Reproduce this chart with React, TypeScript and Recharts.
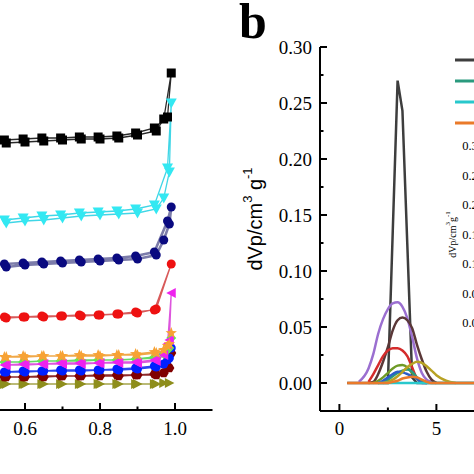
import { LineChart, Line, XAxis, YAxis, Legend } from 'recharts';

// (a) isotherms: adsorption branch out, desorption branch back
const P_ADS = [0.55, 0.6, 0.65, 0.7, 0.75, 0.8, 0.85, 0.9, 0.95, 0.97, 0.985, 0.99];
const P_DES = [0.98, 0.945, 0.895, 0.845, 0.795, 0.745, 0.695, 0.645, 0.595, 0.545];

const BLACK_ADS = [267, 268, 269, 270, 271, 271, 272, 275, 279, 291, null, 337];
const BLACK_DES = [293, 282, 277, 274, 273, 273, 272, 272, 271, 270];
const CYAN_ADS = [187, 189, 190, 192, 194, 195, 196, 197, 201, 212, 238, 307];
const CYAN_DES = [242, 205, 201, 199, 198, 197, 195, 194, 192, 190];
const NAVY_ADS = [143, 145, 146, 147, 148, 149, 150, 151, 155, 170, 186, 203];
const NAVY_DES = [189, 158, 154, 152, 151, 150, 149, 148, 147, 146];
const RED_ADS = [92, 93, 93, 94, 94, 95, 96, 97, 101, null, null, 146];
const RED_DES = [null, 100, 98, 96, 95, 95, 94, 94, 93, 93];
const MAGENTA_ADS = [45, 45, 46, 46, 46, 47, 47, 47, 49, 55, 70, 117];
const MAGENTA_DES = [66, 50, 48, 48, 47, 47, 47, 46, 46, 45];
const ORANGE_ADS = [53, 53, 54, 54, 54, 54, 55, 55, 57, 60, 66, 77];
const ORANGE_DES = [64, 58, 56, 55, 55, 55, 54, 54, 54, 53];
const GREEN_ADS = [48, 48, 49, 49, 49, 50, 50, 51, 52, 56, 62, 72];
const GREEN_DES = [60, 53, 51, 50, 50, 50, 49, 49, 48, 48];
const BLUE_ADS = [38, 38, 39, 39, 39, 40, 40, 41, 43, 46, 52, 62];
const BLUE_DES = [50, 44, 42, 41, 40, 40, 40, 39, 39, 38];
const MAROON_ADS = [33, 33, 33, 34, 34, 34, 34, 35, 35, 37, 42, 57];
const MAROON_DES = [44, 36, 35, 35, 35, 34, 34, 34, 33, 33];
const OLIVE_ADS = [26, 26, 26, 26, 26, 26, 26, 26, 26, 27, 27, null];
const OLIVE_DES = [null, 26, 26, 26, 26, 26, 26, 26, 26, 26];

const ISO_TICKS = [0.6, 0.7, 0.8, 0.9, 1.0];

// (b) pore size distribution
const PORE = [0.4, 1.0, 1.5, 1.75, 2.0, 2.25, 2.5, 2.75, 3.0, 3.25, 3.5, 3.75, 4.0, 4.25, 4.5, 4.75, 5.0, 5.5, 6.0, 7.0, 8.0, 9.0];
const PSD_BLACK = [0, 0, 0, 0, 0, 0, 0, 0.135, 0.27, 0.243, 0.124, 0.005, 0, 0, 0, 0, 0, 0, 0, 0, 0, 0];
const PSD_PURPLE = [null, 0.001, 0.013, 0.026, 0.044, 0.057, 0.066, 0.071, 0.072, 0.068, 0.058, 0.041, 0.022, 0.009, 0.003, 0.001, 0, null, null, null, null, null];
const PSD_BROWN = [null, null, 0, 0.001, 0.008, 0.019, 0.032, 0.047, 0.056, 0.0585, 0.056, 0.049, 0.034, 0.021, 0.01, 0.003, 0, null, null, null, null, null];
const PSD_RED = [null, null, 0.001, 0.008, 0.016, 0.024, 0.029, 0.031, 0.031, 0.029, 0.024, 0.014, 0.004, 0.001, 0, null, null, null, null, null, null, null];
const PSD_OLIVE = [null, null, null, 0, 0.002, 0.005, 0.009, 0.013, 0.0155, 0.016, 0.014, 0.009, 0.004, 0.001, 0, null, null, null, null, null, null, null];
const PSD_TEAL = [null, null, null, null, 0, 0.001, 0.003, 0.006, 0.009, 0.011, 0.012, 0.01, 0.005, 0.002, 0, null, null, null, null, null, null, null];
const PSD_BLUE = [null, null, null, null, 0, 0.002, 0.005, 0.008, 0.01, 0.0095, 0.008, 0.006, 0.004, 0, 0, null, null, null, null, null, null, null];
const PSD_GOLD = [null, null, null, null, null, 0, 0.001, 0.003, 0.006, 0.01, 0.014, 0.017, 0.019, 0.018, 0.015, 0.011, 0.007, 0.002, 0, null, null, null];
const PSD_CYAN = [null, null, null, null, 0, 0, 0, 0, 0, 0, 0, 0, 0, 0, 0, 0, 0, 0, 0, 0, 0, 0];
const PSD_ORANGE = [0, 0, 0, 0, 0, 0, 0, 0.001, 0.002, 0.004, 0.005, 0.0055, 0.005, 0.003, 0.001, 0, 0, 0, 0, 0, 0, 0];

const PSD_X_TICKS = [0, 2.5, 5, 7.5];
const PSD_Y_TICKS = [0, 0.025, 0.05, 0.075, 0.1, 0.125, 0.15, 0.175, 0.2, 0.225, 0.25, 0.275, 0.3];
const INSET_Y_TICKS = [0, 0.05, 0.1, 0.15, 0.2, 0.25, 0.3];

const loop = (ads: (number | null)[], des: (number | null)[]) => [
  ...P_ADS.map((p, i) => ({ p, v: ads[i] })),
  ...P_DES.map((p, i) => ({ p, v: des[i] })),
];

const ISOTHERMS = [
  { key: 'olive', data: loop(OLIVE_ADS, OLIVE_DES), shape: 'right', fill: '#8e8e1c', line: '#a4a44a' },
  { key: 'maroon', data: loop(MAROON_ADS, MAROON_DES), shape: 'hex', fill: '#800000', line: '#8e2a2a' },
  { key: 'blue', data: loop(BLUE_ADS, BLUE_DES), shape: 'circle', fill: '#0020ff', line: '#2a46ee' },
  { key: 'green', data: loop(GREEN_ADS, GREEN_DES), shape: 'diamond', fill: '#55ee55', line: '#66d866' },
  { key: 'magenta', data: loop(MAGENTA_ADS, MAGENTA_DES), shape: 'left', fill: '#ee22ee', line: '#dd55dd' },
  { key: 'orange', data: loop(ORANGE_ADS, ORANGE_DES), shape: 'star', fill: '#f7a234', line: '#f0a848' },
  { key: 'red', data: loop(RED_ADS, RED_DES), shape: 'circle', fill: '#ee1111', line: '#d85a5a' },
  { key: 'navy', data: loop(NAVY_ADS, NAVY_DES), shape: 'circle', fill: '#0a0a80', line: '#7c7caa' },
  { key: 'cyan', data: loop(CYAN_ADS, CYAN_DES), shape: 'down', fill: '#33e8f2', line: '#40d6e6' },
  { key: 'black', data: loop(BLACK_ADS, BLACK_DES), shape: 'square', fill: '#000000', line: '#2a2a2a' },
];

const PSD_ROWS = PORE.map((d, i) => ({
  d,
  black: PSD_BLACK[i],
  purple: PSD_PURPLE[i],
  brown: PSD_BROWN[i],
  red: PSD_RED[i],
  olive: PSD_OLIVE[i],
  teal: PSD_TEAL[i],
  blue: PSD_BLUE[i],
  gold: PSD_GOLD[i],
  cyan: PSD_CYAN[i],
  orange: PSD_ORANGE[i],
}));

const PSD_SERIES = [
  { key: 'black', color: '#3e3e3e', type: 'linear' },
  { key: 'purple', color: '#9b6fd0', type: 'monotone' },
  { key: 'brown', color: '#5a3838', type: 'monotone' },
  { key: 'red', color: '#d42c2c', type: 'monotone' },
  { key: 'olive', color: '#6e9a26', type: 'monotone' },
  { key: 'teal', color: '#2a9a7e', type: 'monotone' },
  { key: 'blue', color: '#2c5ec8', type: 'monotone' },
  { key: 'gold', color: '#b8a224', type: 'monotone' },
  { key: 'cyan', color: '#28c8cc', type: 'monotone' },
  { key: 'orange', color: '#ea7a2a', type: 'monotone' },
];
const LEGEND_KEYS = ['black', 'teal', 'cyan', 'orange'];

const SERIF = '"Liberation Serif", "Times New Roman", serif';
const SANS = '"Liberation Sans", Arial, sans-serif';
const FRAME = { stroke: '#000', strokeWidth: 2 };

function Marker({ cx, cy, shape, fill }: any) {
  if (cx == null || cy == null || Number.isNaN(cx) || Number.isNaN(cy)) return <g />;
  const s = 4.5;
  if (shape === 'square') return <rect x={cx - s} y={cy - s} width={2 * s} height={2 * s} fill={fill} />;
  if (shape === 'down')
    return <polygon points={`${cx - 5.5},${cy - 4.5} ${cx + 5.5},${cy - 4.5} ${cx},${cy + 5.5}`} fill={fill} />;
  if (shape === 'left')
    return <polygon points={`${cx + 4.5},${cy - 5} ${cx + 4.5},${cy + 5} ${cx - 5},${cy}`} fill={fill} />;
  if (shape === 'right')
    return <polygon points={`${cx - 4.5},${cy - 5} ${cx - 4.5},${cy + 5} ${cx + 5},${cy}`} fill={fill} />;
  if (shape === 'diamond')
    return <polygon points={`${cx},${cy - 5} ${cx + 5},${cy} ${cx},${cy + 5} ${cx - 5},${cy}`} fill={fill} />;
  if (shape === 'star') {
    const pts = [];
    for (let k = 0; k < 10; k++) {
      const r = k % 2 === 0 ? 6 : 2.6;
      const a = -Math.PI / 2 + (k * Math.PI) / 5;
      pts.push(`${cx + r * Math.cos(a)},${cy + r * Math.sin(a)}`);
    }
    return <polygon points={pts.join(' ')} fill={fill} />;
  }
  if (shape === 'hex') {
    const pts = [];
    for (let k = 0; k < 6; k++) {
      const a = (k * Math.PI) / 3;
      pts.push(`${cx + 5 * Math.cos(a)},${cy + 5 * Math.sin(a)}`);
    }
    return <polygon points={pts.join(' ')} fill={fill} />;
  }
  return <circle cx={cx} cy={cy} r={s} fill={fill} />;
}

// inward tick marks with labels outside; major ticks every `step`
function XTick({ x, y, payload, gap, step, fmt }: any) {
  const axisY = y - gap;
  const q = payload.value / step;
  const major = Math.abs(q - Math.round(q)) < 1e-6;
  return (
    <g>
      <line x1={x} x2={x} y1={axisY} y2={axisY - (major ? 7 : 3.5)} stroke="#000" strokeWidth={2} />
      {major && (
        <text x={x} y={y} dy="0.71em" textAnchor="middle" fontSize={19} fontFamily={SERIF} fill="#000">
          {fmt(payload.value)}
        </text>
      )}
    </g>
  );
}

function YTick({ x, y, payload, index, gap, every, fontSize }: any) {
  const axisX = x + gap;
  const major = index % every === 0;
  return (
    <g>
      <line x1={axisX} x2={axisX + (major ? 7 : 3.5)} y1={y} y2={y} stroke="#000" strokeWidth={2} />
      {major && (
        <text x={x} y={y} dy="0.355em" textAnchor="end" fontSize={fontSize} fontFamily={SERIF} fill="#000">
          {payload.value.toFixed(2)}
        </text>
      )}
    </g>
  );
}

function PsdYLabel({ viewBox }: any) {
  const cx = (viewBox?.x ?? 0) + 15;
  const cy = (viewBox?.y ?? 10) + (viewBox?.height ?? 364) / 2 - 10;
  return (
    <text transform={`translate(${cx},${cy}) rotate(-90)`} textAnchor="middle" dominantBaseline="central"
      fontFamily={SANS} fontSize={20} fill="#000">
      dVp/cm<tspan fontSize={13} dy={-8}>3</tspan>
      <tspan dy={8}> g</tspan>
      <tspan fontSize={13} dy={-8}>-1</tspan>
    </text>
  );
}

function InsetYLabel({ viewBox }: any) {
  const cx = (viewBox?.x ?? 0) + 8;
  const cy = (viewBox?.y ?? 10) + (viewBox?.height ?? 177) / 2;
  return (
    <text transform={`translate(${cx},${cy}) rotate(-90)`} textAnchor="middle" dominantBaseline="central"
      fontFamily={SERIF} fontSize={10} fill="#000">
      dVp/cm<tspan fontSize={7} dy={-4}>3</tspan>
      <tspan dy={4}>g</tspan>
      <tspan fontSize={7} dy={-4}>-1</tspan>
    </text>
  );
}

function LegendLines({ payload }: any) {
  const items = LEGEND_KEYS.map((k) => (payload || []).find((p: any) => p.dataKey === k)).filter(Boolean);
  return (
    <svg width={60} height={80}>
      {items.map((p: any, i: number) => (
        <line key={p.dataKey} x1={0} x2={60} y1={8 + i * 21} y2={8 + i * 21} stroke={p.color} strokeWidth={3} />
      ))}
    </svg>
  );
}

export default function App() {
  return (
    <div style={{ position: 'fixed', left: 0, top: 0, width: 474, height: 474, overflow: 'hidden', background: '#fff', fontFamily: SERIF }}>
      {/* (a) isotherms, left part of the panel is cropped */}
      <div style={{ position: 'absolute', left: -50, top: 41 }}>
        <LineChart width={267.5} height={409} margin={{ top: 5, right: 5, bottom: 0, left: 0 }}>
          <XAxis dataKey="p" type="number" domain={[0.4, 1.1]} ticks={ISO_TICKS} interval={0} height={40}
            tickSize={0} tickMargin={12} tickLine={false} axisLine={FRAME}
            tick={(p: any) => <XTick {...p} gap={12} step={0.2} fmt={(v: number) => v.toFixed(1)} />} />
          <XAxis xAxisId="top" orientation="top" type="number" domain={[0.4, 1.1]} height={0} tick={false} tickLine={false} axisLine={FRAME} />
          <YAxis type="number" domain={[0, 364]} hide />
          <YAxis yAxisId="right" orientation="right" type="number" domain={[0, 364]} width={0} tick={false} tickLine={false} axisLine={FRAME} />
          {ISOTHERMS.map((s) => (
            <Line key={s.key} data={s.data} dataKey="v" type="linear" stroke={s.line}
              strokeWidth={s.key === 'navy' ? 2.6 : 1.3} connectNulls isAnimationActive={false} legendType="none"
              dot={(p: any) => <Marker key={`${s.key}-${p.index}`} cx={p.cx} cy={p.cy} shape={s.shape} fill={s.fill} />} />
          ))}
        </LineChart>
      </div>

      <div style={{ position: 'absolute', left: 239, top: 0, fontSize: 50, fontWeight: 'bold', lineHeight: '42px', fontFamily: SERIF }}>b</div>

      {/* (b) pore size distribution */}
      <div style={{ position: 'absolute', left: 239.6, top: 37 }}>
        <LineChart width={298.4} height={414} data={PSD_ROWS} margin={{ top: 10, right: 5, bottom: 0, left: 0 }}>
          <XAxis dataKey="d" type="number" domain={[-1, 10]} ticks={PSD_X_TICKS} interval={0} height={40}
            tickSize={0} tickMargin={11} tickLine={false} axisLine={FRAME} allowDataOverflow
            tick={(p: any) => <XTick {...p} gap={11} step={5} fmt={(v: number) => String(v)} />} />
          <XAxis xAxisId="top" orientation="top" type="number" domain={[-1, 10]} height={0} tick={false} tickLine={false} axisLine={FRAME} />
          <YAxis type="number" domain={[-0.025, 0.3]} ticks={PSD_Y_TICKS} interval={0} width={80}
            tickSize={0} tickMargin={8} tickLine={false} axisLine={FRAME} allowDataOverflow
            tick={(p: any) => <YTick {...p} gap={8} every={2} fontSize={19} />}
            label={<PsdYLabel />} />
          <Legend layout="horizontal" verticalAlign="middle" align="center"
            wrapperStyle={{ position: 'absolute', left: 215.4, top: 15, width: 60, height: 80 }}
            content={(p: any) => <LegendLines payload={p.payload} />} />
          {PSD_SERIES.map((s) => (
            <Line key={s.key} dataKey={s.key} type={s.type as any} stroke={s.color} strokeWidth={2.5} dot={false}
              isAnimationActive={false} legendType={LEGEND_KEYS.includes(s.key) ? 'line' : 'none'} />
          ))}
        </LineChart>
      </div>

      {/* inset of (b), mostly outside the crop */}
      <div style={{ position: 'absolute', left: 444, top: 136 }}>
        <LineChart width={164} height={217} data={PSD_ROWS} margin={{ top: 10, right: 0, bottom: 0, left: 0 }}>
          <XAxis dataKey="d" type="number" domain={[2, 5]} height={30} tickLine={false} axisLine={FRAME} allowDataOverflow tick={false} />
          <YAxis type="number" domain={[0, 0.3]} ticks={INSET_Y_TICKS} interval={0} width={44}
            tickSize={0} tickMargin={4} tickLine={false} axisLine={FRAME}
            tick={(p: any) => <YTick {...p} gap={4} every={1} fontSize={12.5} />}
            label={<InsetYLabel />} />
          <Line dataKey="black" type="linear" stroke="#3e3e3e" strokeWidth={2} dot={false} isAnimationActive={false} />
        </LineChart>
      </div>
    </div>
  );
}
